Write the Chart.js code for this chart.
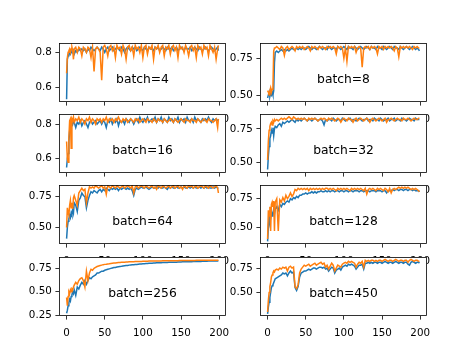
<!DOCTYPE html>
<html><head><meta charset="utf-8">
<script src="https://cdn.jsdelivr.net/npm/chart.js@4/dist/chart.umd.min.js"></script>
<style>
html,body{margin:0;padding:0;background:#fff;}
#fig{position:relative;width:474px;height:355px;overflow:hidden;background:#fff;}
#fig canvas{position:absolute;}
</style></head><body><div id="fig"></div>
<script>
const EPOCHS = [0,1,2,3,4,5,6,7,8,9,10,
  12,14,16,18,20,22,24,26,28,30,32,34,36,38,40,
  42,44,46,48,50,52,54,56,58,60, 62,64,66,68,70,72,74,76,78,80,
  82,84,86,88,90,92,94,96,98,100, 102,104,106,108,110,112,114,116,118,120,
  122,124,126,128,130,132,134,136,138,140, 142,144,146,148,150,152,154,156,158,160,
  162,164,166,168,170,172,174,176,178,180, 182,184,186,188,190,192,194,196,198,199];

const X_TICKS = [0,50,100,150,200];
const X_TICK_LABELS = ['0','50','100','150','200'];
const X_RANGE = [-9.95, 208.95];

const blue4 = [0.53,0.76,0.78,0.79,0.80,0.79,0.80,0.81,0.80,0.81,0.79,
  0.81,0.80,0.82,0.81,0.82,0.81,0.82,0.80,0.82,0.81,0.83,0.82,0.81,0.82,0.83,
  0.82,0.81,0.83,0.82,0.80,0.82,0.83,0.81,0.82,0.83, 0.81,0.82,0.83,0.82,0.81,0.83,0.82,0.80,0.82,0.83,
  0.82,0.81,0.83,0.82,0.83,0.81,0.82,0.83,0.82,0.81, 0.83,0.82,0.81,0.83,0.82,0.82,0.81,0.83,0.82,0.83,
  0.81,0.82,0.83,0.82,0.81,0.83,0.82,0.82,0.83,0.81, 0.82,0.83,0.81,0.82,0.83,0.82,0.81,0.83,0.82,0.82,
  0.83,0.81,0.82,0.83,0.82,0.81,0.83,0.82,0.81,0.82, 0.83,0.82,0.81,0.82,0.83,0.82,0.81,0.82,0.83,0.81];
const orange4 = [0.68,0.77,0.80,0.81,0.82,0.80,0.82,0.83,0.81,0.76,0.82,
  0.83,0.80,0.83,0.82,0.78,0.83,0.82,0.80,0.83,0.82,0.77,0.83,0.69,0.82,0.83,
  0.82,0.80,0.64,0.83,0.84,0.82,0.78,0.83,0.84,0.81, 0.83,0.77,0.84,0.82,0.83,0.79,0.84,0.82,0.76,0.83,
  0.84,0.81,0.83,0.78,0.84,0.82,0.83,0.80,0.84,0.77, 0.83,0.84,0.79,0.83,0.82,0.84,0.76,0.83,0.82,0.84,
  0.80,0.83,0.84,0.78,0.83,0.82,0.84,0.79,0.83,0.84, 0.81,0.83,0.77,0.84,0.82,0.83,0.80,0.84,0.82,0.78,
  0.83,0.84,0.81,0.83,0.77,0.84,0.82,0.83,0.79,0.84, 0.82,0.83,0.78,0.84,0.82,0.80,0.83,0.76,0.82,0.84];

const blue8 = [0.48,0.50,0.52,0.49,0.51,0.50,0.52,0.50,0.53,0.72,0.79,
  0.80,0.79,0.80,0.81,0.80,0.81,0.80,0.81,0.80,0.81,0.82,0.81,0.81,0.82,0.81,
  0.82,0.81,0.82,0.82,0.81,0.82,0.83,0.82,0.81,0.82, 0.82,0.81,0.82,0.83,0.82,0.81,0.82,0.82,0.81,0.83,
  0.82,0.81,0.82,0.82,0.81,0.83,0.82,0.81,0.82,0.83, 0.82,0.81,0.83,0.82,0.82,0.81,0.83,0.82,0.81,0.82,
  0.83,0.82,0.81,0.82,0.83,0.82,0.81,0.83,0.82,0.82, 0.81,0.83,0.82,0.82,0.81,0.83,0.82,0.81,0.82,0.83,
  0.82,0.81,0.83,0.82,0.82,0.81,0.83,0.82,0.81,0.82, 0.83,0.82,0.81,0.82,0.83,0.82,0.81,0.82,0.81,0.80];
const orange8 = [0.53,0.52,0.50,0.53,0.55,0.52,0.54,0.55,0.80,0.82,0.82,
  0.83,0.82,0.81,0.83,0.82,0.77,0.82,0.83,0.81,0.82,0.83,0.82,0.80,0.83,0.82,
  0.83,0.82,0.83,0.81,0.82,0.83,0.82,0.80,0.83,0.82, 0.83,0.82,0.81,0.83,0.82,0.83,0.82,0.81,0.83,0.82,
  0.83,0.82,0.83,0.82,0.78,0.83,0.82,0.83,0.82,0.75, 0.82,0.73,0.83,0.82,0.83,0.82,0.83,0.79,0.82,0.83,
  0.82,0.69,0.82,0.83,0.82,0.83,0.81,0.83,0.82,0.83, 0.82,0.78,0.83,0.82,0.83,0.81,0.83,0.82,0.83,0.82,
  0.83,0.82,0.80,0.83,0.82,0.76,0.83,0.82,0.83,0.82, 0.83,0.82,0.83,0.82,0.81,0.83,0.82,0.83,0.82,0.82];

const blue16 = [0.55,0.60,0.63,0.70,0.76,0.80,0.79,0.81,0.80,0.82,0.81,
  0.78,0.81,0.80,0.82,0.79,0.81,0.82,0.80,0.78,0.81,0.82,0.80,0.81,0.82,0.80,
  0.81,0.82,0.80,0.82,0.81,0.78,0.82,0.81,0.83,0.80, 0.82,0.81,0.83,0.79,0.82,0.81,0.82,0.80,0.83,0.82,
  0.81,0.83,0.82,0.80,0.82,0.83,0.81,0.84,0.82,0.81, 0.83,0.82,0.84,0.81,0.82,0.83,0.82,0.84,0.81,0.83,
  0.82,0.84,0.81,0.83,0.82,0.81,0.84,0.82,0.83,0.81, 0.83,0.82,0.84,0.81,0.83,0.82,0.83,0.81,0.84,0.82,
  0.82,0.83,0.81,0.84,0.82,0.83,0.82,0.81,0.83,0.82, 0.83,0.82,0.84,0.82,0.81,0.83,0.82,0.83,0.82,0.82];
const orange16 = [0.70,0.60,0.58,0.72,0.82,0.83,0.66,0.83,0.82,0.84,0.81,
  0.83,0.82,0.84,0.81,0.83,0.82,0.80,0.83,0.82,0.84,0.81,0.83,0.82,0.80,0.83,
  0.82,0.83,0.81,0.83,0.82,0.84,0.81,0.83,0.82,0.83, 0.81,0.83,0.82,0.84,0.82,0.81,0.83,0.82,0.83,0.81,
  0.82,0.83,0.82,0.81,0.83,0.82,0.83,0.81,0.82,0.83, 0.82,0.81,0.83,0.82,0.82,0.81,0.83,0.82,0.81,0.83,
  0.82,0.82,0.81,0.83,0.82,0.81,0.82,0.83,0.82,0.81, 0.83,0.82,0.81,0.82,0.83,0.82,0.81,0.83,0.82,0.82,
  0.81,0.83,0.82,0.82,0.81,0.83,0.82,0.81,0.82,0.83, 0.82,0.81,0.83,0.82,0.82,0.81,0.82,0.83,0.78,0.83];

const blue32 = [0.45,0.55,0.62,0.68,0.70,0.74,0.72,0.76,0.70,0.75,0.77,
  0.76,0.78,0.79,0.77,0.80,0.79,0.80,0.81,0.80,0.81,0.82,0.81,0.80,0.82,0.81,
  0.82,0.81,0.82,0.83,0.82,0.81,0.82,0.82,0.81,0.82, 0.83,0.82,0.81,0.82,0.82,0.81,0.78,0.82,0.81,0.82,
  0.82,0.81,0.83,0.82,0.81,0.82,0.82,0.81,0.83,0.82, 0.81,0.82,0.82,0.83,0.81,0.82,0.82,0.81,0.82,0.83,
  0.82,0.81,0.82,0.82,0.83,0.81,0.82,0.82,0.81,0.83, 0.82,0.82,0.81,0.83,0.82,0.81,0.82,0.82,0.83,0.81,
  0.82,0.82,0.83,0.81,0.82,0.82,0.81,0.83,0.82,0.82, 0.81,0.82,0.83,0.82,0.82,0.81,0.83,0.82,0.82,0.82];
const orange32 = [0.52,0.66,0.74,0.77,0.79,0.80,0.78,0.81,0.80,0.82,0.81,
  0.82,0.81,0.82,0.83,0.82,0.83,0.82,0.83,0.84,0.83,0.82,0.84,0.83,0.82,0.83,
  0.82,0.83,0.82,0.83,0.82,0.81,0.83,0.82,0.83,0.82, 0.83,0.82,0.81,0.82,0.83,0.82,0.83,0.82,0.81,0.83,
  0.82,0.83,0.82,0.81,0.82,0.83,0.82,0.80,0.82,0.83, 0.82,0.81,0.83,0.82,0.82,0.80,0.82,0.83,0.81,0.82,
  0.83,0.82,0.81,0.82,0.83,0.82,0.80,0.82,0.83,0.82, 0.81,0.82,0.83,0.82,0.81,0.82,0.83,0.80,0.82,0.82,
  0.83,0.82,0.81,0.82,0.83,0.82,0.82,0.81,0.83,0.82, 0.82,0.83,0.82,0.81,0.82,0.83,0.82,0.82,0.83,0.83];

const blue64 = [0.41,0.50,0.55,0.57,0.60,0.58,0.62,0.60,0.65,0.62,0.70,
  0.68,0.63,0.72,0.74,0.78,0.76,0.75,0.66,0.72,0.76,0.79,0.78,0.80,0.79,0.78,
  0.80,0.81,0.79,0.81,0.80,0.82,0.81,0.80,0.82,0.81, 0.82,0.81,0.82,0.80,0.82,0.81,0.82,0.82,0.81,0.82,
  0.81,0.82,0.80,0.76,0.81,0.82,0.81,0.82,0.83,0.82, 0.82,0.83,0.82,0.81,0.82,0.83,0.82,0.82,0.83,0.82,
  0.83,0.82,0.82,0.83,0.82,0.81,0.83,0.82,0.83,0.82, 0.82,0.83,0.82,0.82,0.83,0.82,0.83,0.82,0.82,0.83,
  0.82,0.83,0.82,0.83,0.82,0.82,0.83,0.82,0.83,0.82, 0.83,0.82,0.83,0.82,0.82,0.83,0.82,0.83,0.82,0.82];
const orange64 = [0.50,0.66,0.62,0.60,0.68,0.72,0.66,0.70,0.65,0.74,0.76,
  0.72,0.68,0.78,0.80,0.82,0.80,0.81,0.70,0.78,0.83,0.82,0.83,0.82,0.84,0.83,
  0.82,0.83,0.84,0.82,0.83,0.77,0.84,0.83,0.82,0.84, 0.83,0.82,0.84,0.83,0.82,0.83,0.84,0.82,0.83,0.84,
  0.83,0.82,0.84,0.78,0.83,0.84,0.82,0.83,0.84,0.83, 0.82,0.84,0.83,0.82,0.83,0.84,0.82,0.83,0.81,0.84,
  0.83,0.82,0.84,0.83,0.82,0.83,0.84,0.82,0.83,0.84, 0.82,0.83,0.84,0.82,0.83,0.81,0.84,0.83,0.82,0.84,
  0.83,0.84,0.82,0.83,0.84,0.82,0.83,0.84,0.83,0.82, 0.84,0.83,0.82,0.84,0.83,0.82,0.83,0.84,0.82,0.78];

const blue128 = [0.38,0.50,0.60,0.55,0.58,0.64,0.60,0.62,0.66,0.62,0.66,
  0.68,0.65,0.70,0.68,0.71,0.70,0.72,0.73,0.72,0.75,0.74,0.76,0.75,0.77,0.76,
  0.78,0.78,0.79,0.79,0.80,0.79,0.80,0.80,0.81,0.80, 0.81,0.80,0.81,0.81,0.82,0.81,0.81,0.82,0.81,0.82,
  0.81,0.82,0.82,0.81,0.82,0.82,0.81,0.82,0.82,0.81, 0.82,0.82,0.81,0.82,0.82,0.81,0.82,0.82,0.82,0.81,
  0.82,0.82,0.81,0.82,0.82,0.82,0.81,0.82,0.82,0.82, 0.81,0.82,0.82,0.82,0.81,0.82,0.82,0.80,0.82,0.82,
  0.82,0.83,0.82,0.83,0.83,0.82,0.83,0.83,0.82,0.83, 0.83,0.82,0.83,0.83,0.82,0.83,0.82,0.82,0.82,0.81];
const orange128 = [0.40,0.65,0.60,0.68,0.47,0.70,0.72,0.68,0.73,0.47,0.72,
  0.75,0.47,0.74,0.72,0.76,0.73,0.78,0.75,0.77,0.80,0.77,0.79,0.83,0.82,0.84,
  0.83,0.84,0.83,0.84,0.83,0.84,0.82,0.84,0.83,0.84, 0.83,0.84,0.83,0.84,0.83,0.84,0.83,0.84,0.84,0.83,
  0.84,0.83,0.84,0.83,0.82,0.84,0.83,0.84,0.83,0.84, 0.83,0.84,0.83,0.82,0.84,0.83,0.84,0.83,0.84,0.83,
  0.84,0.83,0.82,0.84,0.79,0.83,0.84,0.83,0.84,0.83, 0.82,0.84,0.83,0.84,0.83,0.82,0.84,0.83,0.81,0.84,
  0.80,0.83,0.84,0.83,0.84,0.85,0.84,0.85,0.84,0.85, 0.84,0.85,0.84,0.83,0.84,0.83,0.84,0.83,0.82,0.81];

const blue256 = [0.27,0.30,0.35,0.38,0.42,0.40,0.45,0.47,0.50,0.48,0.52,
  0.46,0.55,0.53,0.57,0.60,0.58,0.62,0.58,0.62,0.65,0.64,0.66,0.67,0.68,0.70,
  0.70,0.71,0.72,0.72,0.73,0.735,0.74,0.745,0.75,0.755, 0.76,0.76,0.765,0.768,0.77,0.772,0.775,0.778,0.78,0.782,
  0.785,0.787,0.789,0.79,0.791,0.792,0.794,0.796,0.798,0.80, 0.80,0.802,0.803,0.805,0.805,0.806,0.807,0.808,0.81,0.81,
  0.81,0.811,0.812,0.812,0.813,0.814,0.815,0.815,0.815,0.816, 0.817,0.817,0.818,0.818,0.819,0.82,0.82,0.82,0.821,0.821,
  0.822,0.822,0.823,0.823,0.824,0.824,0.825,0.825,0.826,0.826, 0.827,0.827,0.828,0.828,0.829,0.829,0.83,0.83,0.83,0.831];
const orange256 = [0.44,0.35,0.45,0.50,0.48,0.52,0.50,0.53,0.52,0.55,0.57,
  0.60,0.58,0.62,0.64,0.65,0.62,0.55,0.72,0.62,0.70,0.74,0.73,0.75,0.76,0.77,
  0.775,0.78,0.785,0.79,0.793,0.795,0.798,0.80,0.803,0.805, 0.807,0.808,0.81,0.812,0.813,0.815,0.816,0.817,0.818,0.819,
  0.82,0.821,0.822,0.822,0.823,0.824,0.824,0.825,0.825,0.826, 0.826,0.827,0.827,0.828,0.828,0.828,0.829,0.829,0.83,0.83,
  0.83,0.83,0.831,0.831,0.831,0.832,0.832,0.832,0.832,0.833, 0.833,0.833,0.833,0.834,0.834,0.834,0.834,0.834,0.835,0.835,
  0.835,0.835,0.835,0.835,0.836,0.836,0.836,0.836,0.836,0.836, 0.836,0.837,0.837,0.837,0.837,0.837,0.837,0.838,0.838,0.838];

const blue450 = [0.28,0.35,0.40,0.45,0.50,0.55,0.57,0.58,0.60,0.62,0.64,
  0.65,0.66,0.67,0.68,0.70,0.69,0.70,0.67,0.70,0.72,0.70,0.71,0.55,0.52,0.56,
  0.66,0.70,0.71,0.72,0.72,0.73,0.74,0.73,0.74,0.75, 0.75,0.74,0.75,0.76,0.76,0.75,0.76,0.74,0.75,0.72,
  0.74,0.76,0.75,0.70,0.73,0.74,0.75,0.73,0.76,0.77, 0.78,0.77,0.79,0.78,0.79,0.78,0.77,0.74,0.76,0.78,
  0.78,0.79,0.74,0.80,0.80,0.81,0.80,0.81,0.80,0.81, 0.81,0.80,0.81,0.81,0.80,0.81,0.82,0.81,0.80,0.81,
  0.81,0.80,0.81,0.82,0.81,0.80,0.81,0.81,0.80,0.81, 0.81,0.79,0.78,0.81,0.82,0.81,0.80,0.81,0.81,0.80];
const orange450 = [0.30,0.42,0.50,0.56,0.60,0.66,0.68,0.70,0.72,0.71,0.73,
  0.74,0.73,0.75,0.74,0.76,0.75,0.76,0.72,0.76,0.77,0.75,0.76,0.56,0.54,0.58,
  0.70,0.74,0.76,0.78,0.77,0.78,0.79,0.77,0.78,0.79, 0.80,0.78,0.79,0.80,0.81,0.79,0.80,0.76,0.78,0.74,
  0.77,0.80,0.78,0.72,0.75,0.78,0.77,0.76,0.79,0.80, 0.81,0.80,0.82,0.81,0.82,0.81,0.80,0.76,0.79,0.81,
  0.80,0.82,0.76,0.83,0.82,0.83,0.82,0.83,0.83,0.82, 0.83,0.82,0.83,0.83,0.82,0.83,0.84,0.83,0.82,0.83,
  0.83,0.82,0.83,0.84,0.83,0.82,0.83,0.83,0.82,0.83, 0.83,0.81,0.83,0.84,0.83,0.82,0.83,0.83,0.82,0.82];

const PANEL_LABELS = ['batch=4','batch=8','batch=16','batch=32','batch=64','batch=128','batch=256','batch=450'];
const BLUE_SERIES = [blue4,blue8,blue16,blue32,blue64,blue128,blue256,blue450];
const ORANGE_SERIES = [orange4,orange8,orange16,orange32,orange64,orange128,orange256,orange450];
const Y_RANGES = [[0.514,0.854],[0.453,0.854],[0.518,0.858],[0.424,0.861],[0.366,0.845],[0.357,0.869],[0.240,0.872],[0.259,0.864]];
const Y_TICKS = [[0.6,0.8],[0.5,0.75],[0.6,0.8],[0.5,0.75],[0.5,0.75],[0.5,0.75],[0.25,0.5,0.75],[0.5,0.75]];
const Y_TICK_LABELS = [['0.6','0.8'],['0.50','0.75'],['0.6','0.8'],['0.50','0.75'],['0.50','0.75'],['0.50','0.75'],['0.25','0.50','0.75'],['0.50','0.75']];

// layout (pixels)
const AX_LEFT = [59, 260], AX_TOP = [43, 114, 185, 257], AX_W = 167, AX_H = 59;
const PAD_L = 45, PAD_T = 12, PAD_R = 14, PAD_B = 26;
const FONT = 'DejaVu Sans';
const TICK_FONT = {family: FONT, size: 10.3};

const bgPlugin = {id:'axbg', beforeDraw(chart){
  const a = chart.chartArea, c = chart.ctx;
  c.save(); c.fillStyle = '#fff'; c.fillRect(a.left, a.top, a.right-a.left, a.bottom-a.top); c.restore();
}};
const framePlugin = {id:'frame', afterDraw(chart){
  const a = chart.chartArea, c = chart.ctx;
  c.save();
  c.strokeStyle = '#000'; c.lineWidth = 0.8;
  c.strokeRect(a.left+0.5, a.top+0.5, a.right-a.left-1, a.bottom-a.top-1);
  const txt = chart.options.plugins.panelText.text;
  c.fillStyle = '#000'; c.font = '12.3px "' + FONT + '"';
  c.textAlign = 'center'; c.textBaseline = 'middle';
  c.fillText(txt, (a.left+a.right)/2, a.bottom - 0.38*(a.bottom-a.top));
  c.restore();
}};

const fig = document.getElementById('fig');
PANEL_LABELS.forEach((label, i) => {
  const col = i % 2, row = Math.floor(i / 2);
  const W = AX_W + PAD_L + PAD_R, H = AX_H + PAD_T + PAD_B;
  const cv = document.createElement('canvas');
  cv.width = W; cv.height = H;
  cv.style.width = W + 'px'; cv.style.height = H + 'px';
  cv.style.left = (AX_LEFT[col] - PAD_L) + 'px';
  cv.style.top = (AX_TOP[row] - PAD_T) + 'px';
  cv.style.zIndex = String(i + 1);
  fig.appendChild(cv);
  const pts = arr => EPOCHS.map((e, k) => ({x: e, y: arr[k]}));
  const yt = Y_TICKS[i], ytl = Y_TICK_LABELS[i];
  new Chart(cv, {
    type: 'line',
    data: {datasets: [
      {data: pts(ORANGE_SERIES[i]), borderColor: '#ff7f0e', borderWidth: 1.5, pointRadius: 0, tension: 0, fill: false, clip: 0},
      {data: pts(BLUE_SERIES[i]), borderColor: '#1f77b4', borderWidth: 1.5, pointRadius: 0, tension: 0, fill: false, clip: 0}
    ]},
    options: {
      responsive: false, animation: false, devicePixelRatio: 1, events: [],
      layout: {padding: {left: 0, top: PAD_T, right: PAD_R, bottom: 0}},
      plugins: {legend: {display: false}, tooltip: {enabled: false}, panelText: {text: label}},
      scales: {
        x: {type: 'linear', min: X_RANGE[0], max: X_RANGE[1],
          afterBuildTicks: s => { s.ticks = X_TICKS.map(v => ({value: v})); },
          afterFit: s => { s.height = PAD_B; },
          ticks: {callback: v => X_TICK_LABELS[X_TICKS.indexOf(v)], color: '#000', font: TICK_FONT, padding: 7.4, maxRotation: 0, autoSkip: false},
          grid: {display: true, drawOnChartArea: false, drawTicks: true, tickLength: 3.6, tickWidth: 0.8, tickColor: '#000'},
          border: {display: false}},
        y: {type: 'linear', min: Y_RANGES[i][0], max: Y_RANGES[i][1],
          afterBuildTicks: s => { s.ticks = yt.map(v => ({value: v})); },
          afterFit: s => { s.width = PAD_L; },
          ticks: {callback: v => ytl[yt.indexOf(v)], color: '#000', font: TICK_FONT, padding: 3.6, autoSkip: false},
          grid: {display: true, drawOnChartArea: false, drawTicks: true, tickLength: 3.6, tickWidth: 0.8, tickColor: '#000'},
          border: {display: false}}
      }
    },
    plugins: [bgPlugin, framePlugin]
  });
});
</script></body></html>
